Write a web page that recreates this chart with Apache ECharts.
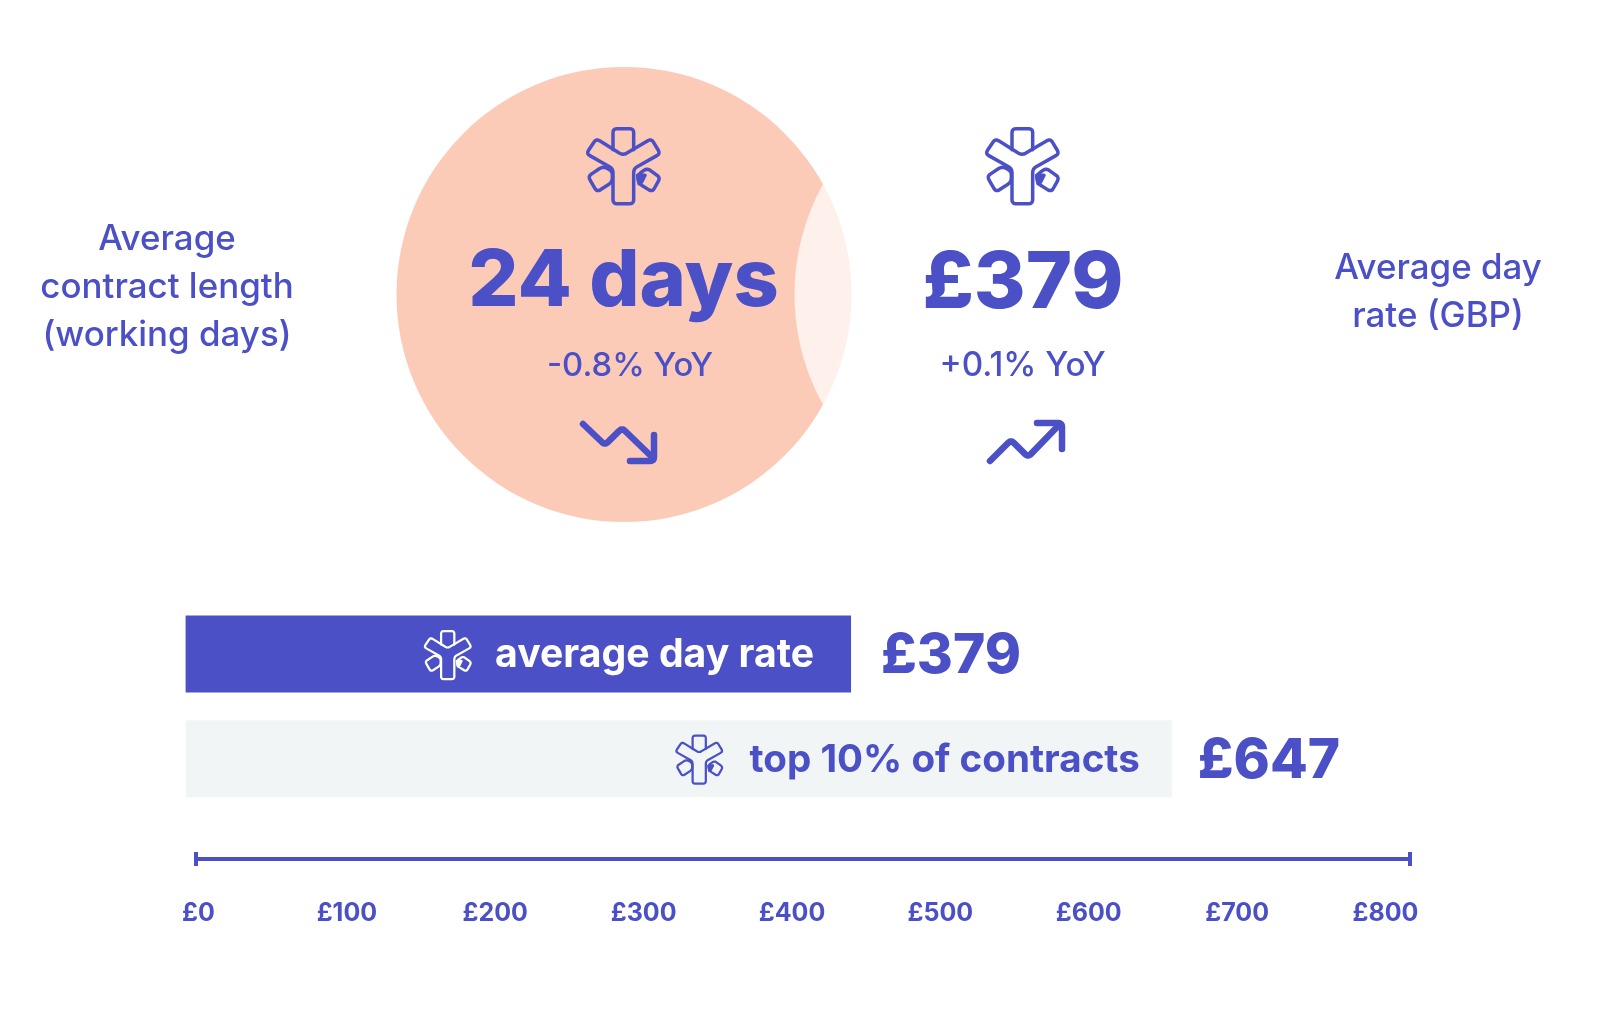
<!DOCTYPE html>
<html>
<head>
<meta charset="utf-8">
<title>Average contract length and day rate</title>
<style>
  html, body { margin: 0; padding: 0; background: #fff; }
  #chart { width: 1600px; height: 1020px; }
</style>
<script src="https://cdn.jsdelivr.net/npm/echarts@6/dist/echarts.min.js"></script>
</head>
<body>
<div id="chart"></div>
<script>
var bubbleNames = ['Average contract length', 'Average day rate']
var bubbleValues = [0, 0]
var headlines = ['24 days', '£379']
var yoyLabels = ['-0.8% YoY', '+0.1% YoY']

var barNames = ['average day rate', 'top 10% of contracts']
var barPrices = ['£379', '£647']
// bar lengths as drawn in the picture, read against its axis (they do not follow the printed prices)
var barLengths = [446, 661]
var tickLabels = ['£0', '£100', '£200', '£300', '£400', '£500', '£600', '£700', '£800']

var INDIGO = '#4b50c6'
var FONT = 'Inter, "Noto Sans", sans-serif'
var TOP = 10

// logo outline, in px of a 75px wide icon x3, around its centre
var logoParts = [
  {open: true, points: [[-30, -49], [-30, -112], [32, -112], [32, -49]]},
  {points: [[-80, -82], [0, -32], [85, -82], [112, -37], [32, 8], [32, 113], [-30, 113], [-30, 8], [-110, -37]]},
  {points: [[-60, 1], [-105, 31], [-78, 78], [-32, 48], [-32, 15]]},
  {points: [[72, 6], [112, 35], [88, 78], [48, 53], [43, 28]]},
  {fill: true, points: [[44, 28], [66, 28], [56, 48], [48, 53]]}
]

// cut each corner into a short curve, the polygons of zrender have no corner radius
function roundCorners(points, r, open) {
  var out = []
  var n = points.length
  points.forEach(function(p, i) {
    if (open && (i === 0 || i === n - 1)) {
      out.push(p)
      return
    }
    var a = points[(i + n - 1) % n]
    var b = points[(i + 1) % n]
    var la = Math.hypot(a[0] - p[0], a[1] - p[1])
    var lb = Math.hypot(b[0] - p[0], b[1] - p[1])
    var ra = Math.min(r, la / 2) / la
    var rb = Math.min(r, lb / 2) / lb
    var from = [p[0] + (a[0] - p[0]) * ra, p[1] + (a[1] - p[1]) * ra]
    var to = [p[0] + (b[0] - p[0]) * rb, p[1] + (b[1] - p[1]) * rb]
    for (var t = 0; t <= 1; t += 0.25) {
      out.push([
        (1 - t) * (1 - t) * from[0] + 2 * t * (1 - t) * p[0] + t * t * to[0],
        (1 - t) * (1 - t) * from[1] + 2 * t * (1 - t) * p[1] + t * t * to[1]
      ])
    }
  })
  return out
}

function logo(cx, cy, size, color) {
  return {
    type: 'group',
    x: cx,
    y: cy,
    z: TOP,
    scaleX: size / 3,
    scaleY: size / 3,
    children: logoParts.map(function(part) {
      return {
        type: part.open ? 'polyline' : 'polygon',
        z: TOP,
        shape: {points: roundCorners(part.points, part.fill ? 0 : 12, part.open)},
        style: {
          fill: part.fill ? color : null,
          stroke: color,
          lineWidth: 10.5,
          lineJoin: 'round',
          lineCap: 'round'
        }
      }
    })
  }
}

function arrow(points) {
  return {
    type: 'polyline',
    z: TOP,
    shape: {points: roundCorners(points, 4, true)},
    style: {fill: null, stroke: INDIGO, lineWidth: 6.5, lineJoin: 'round', lineCap: 'round'}
  }
}

function label(text, x, y, size, weight, color) {
  return {
    type: 'text',
    z: TOP,
    x: x,
    y: y,
    style: {
      text: text,
      fill: color || INDIGO,
      font: weight + ' ' + size + 'px ' + FONT,
      textAlign: 'center',
      textVerticalAlign: 'middle'
    }
  }
}

var graphics = [
  logo(623, 166, 1, INDIGO),
  logo(1022, 166, 1, INDIGO),
  logo(447.5, 655, 0.64, '#fff'),
  logo(699, 759.5, 0.64, INDIGO),
  arrow([[583, 424], [605, 445], [622, 428], [653, 458]]),
  arrow([[654, 435], [654, 461], [630, 461]]),
  arrow([[990, 461], [1011, 440], [1028, 457], [1060, 424]]),
  arrow([[1037, 423], [1062, 423], [1062, 449]]),
  label('Average', 167, 239.5, 34.9, 500),
  label('contract length', 167, 287.5, 34.9, 500),
  label('(working days)', 167, 335.5, 34.9, 500),
  label('Average day', 1438, 269, 34.9, 500),
  label('rate (GBP)', 1438, 317, 34.9, 500),
  label(headlines[0], 623.5, 282.5, 79, 850),
  label(headlines[1], 1023, 284.5, 79, 850),
  label(yoyLabels[0], 630, 366, 32.8, 550),
  label(yoyLabels[1], 1022.5, 366, 33.3, 550)
]

var myChart = echarts.init(document.getElementById('chart'), null, {renderer: 'canvas'})

var option = {
  animation: false,
  backgroundColor: '#fff',
  grid: [
    {left: 425, top: 64.5, width: 796, height: 460},
    {left: 185.6, top: 601.5, width: 1193.6, height: 209.5},
    {left: 196, top: 858, width: 1214, height: 1},
    {left: 198.5, top: 894, width: 1187, height: 1}
  ],
  xAxis: [
    {gridIndex: 0, type: 'category', data: bubbleNames, show: false},
    {gridIndex: 1, type: 'value', min: 0, max: 800, show: false},
    {
      gridIndex: 2,
      type: 'value',
      min: 0,
      max: 800,
      splitLine: {show: false},
      axisTick: {show: false},
      axisLabel: {show: false},
      axisLine: {
        show: true,
        onZero: false,
        symbol: ['rect', 'rect'],
        symbolSize: [14, 4],
        lineStyle: {color: INDIGO, width: 4}
      }
    },
    {
      gridIndex: 3,
      type: 'category',
      boundaryGap: false,
      data: tickLabels,
      axisLine: {show: false},
      axisTick: {show: false},
      splitLine: {show: false},
      axisLabel: {
        interval: 0,
        margin: 6,
        verticalAlign: 'top',
        color: INDIGO,
        fontFamily: FONT,
        fontWeight: 700,
        fontSize: 25
      }
    }
  ],
  yAxis: [
    {gridIndex: 0, type: 'value', min: -1, max: 1, show: false},
    {gridIndex: 1, type: 'category', data: barNames, inverse: true, show: false},
    {gridIndex: 2, type: 'value', show: false},
    {gridIndex: 3, type: 'value', show: false}
  ],
  graphic: graphics,
  series: [
    {
      type: 'scatter',
      xAxisIndex: 0,
      yAxisIndex: 0,
      symbolSize: 455,
      silent: true,
      data: bubbleValues.map(function(v, i) {
        return {
          value: v,
          itemStyle: i === 0 ? {color: '#fccbb8', opacity: 1} : {color: '#fff', opacity: 0.7}
        }
      })
    },
    {
      type: 'bar',
      xAxisIndex: 1,
      yAxisIndex: 1,
      barWidth: 77,
      silent: true,
      data: barLengths.map(function(v, i) {
        return {
          value: v,
          itemStyle: {color: i === 0 ? INDIGO : '#f2f5f6'},
          label: {distance: i === 0 ? 30 : 26}
        }
      }),
      label: {
        show: true,
        position: 'right',
        offset: [0, 2.5],
        color: INDIGO,
        fontFamily: FONT,
        fontWeight: 800,
        fontSize: 55,
        formatter: function(p) { return barPrices[p.dataIndex] }
      }
    },
    {
      type: 'bar',
      xAxisIndex: 1,
      yAxisIndex: 1,
      barWidth: 77,
      barGap: '-100%',
      silent: true,
      itemStyle: {color: 'transparent'},
      data: barLengths.map(function(v, i) {
        return {
          value: v,
          label: {
            color: i === 0 ? '#fff' : INDIGO,
            distance: i === 0 ? 37 : 32,
            fontSize: i === 0 ? 39.2 : 38.6,
            offset: [0, i === 0 ? 1 : 2]
          }
        }
      }),
      label: {
        show: true,
        position: 'insideRight',
        fontFamily: FONT,
        fontWeight: 700,
        formatter: function(p) { return barNames[p.dataIndex] }
      },
      z: 3
    }
  ]
}

myChart.setOption(option)
</script>
</body>
</html>
